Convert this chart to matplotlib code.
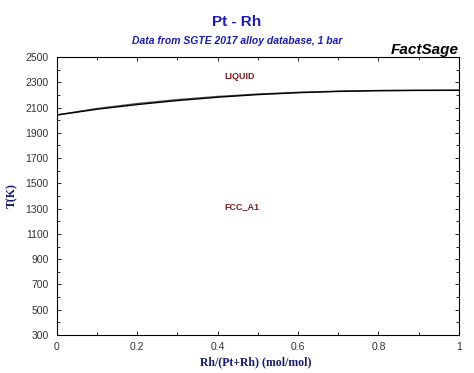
import numpy as np
import matplotlib.pyplot as plt
from matplotlib.ticker import MultipleLocator, FixedLocator

# phase boundaries
x_pts = [0.0, 0.1, 0.2, 0.3, 0.4, 0.5, 0.6, 0.7, 0.8, 0.9, 1.0]
t_liq = [2042, 2093, 2132, 2163, 2188, 2207, 2221, 2230, 2235, 2237, 2237]
t_sol = [2041, 2087, 2124, 2156, 2182, 2203, 2218, 2228, 2234, 2236, 2237]

phase_labels = ["LIQUID", "FCC_A1"]
phase_pos = [(0.455, 2350), (0.46, 1320)]

y_major = list(range(300, 2501, 200))
x_major = [0, 0.2, 0.4, 0.6, 0.8, 1]
x_labels = ['0', '0.2', '0.4', '0.6', '0.8', '1']

fig = plt.figure(figsize=(4.74, 3.73), dpi=100)
ax = fig.add_axes([0.120, 0.102, 0.848, 0.745])

ax.plot(x_pts, t_liq, color='#555555', lw=1.0)
ax.plot(x_pts, t_sol, color='black', lw=1.0)

ax.set_xlim(0, 1)
ax.set_ylim(300, 2500)
ax.set_xticks(x_major)
ax.set_xticklabels(x_labels)
ax.xaxis.set_minor_locator(MultipleLocator(0.1))
ax.yaxis.set_major_locator(FixedLocator(y_major))
ax.yaxis.set_minor_locator(MultipleLocator(100))
ax.tick_params(which='both', direction='in', top=True, right=True,
               labelsize=7.5, labelcolor='#333333', width=0.6)
ax.tick_params(which='major', length=3)
ax.tick_params(which='minor', length=2)
ax.tick_params(axis='x', pad=5)
ax.tick_params(axis='y', pad=6)
for lab in ax.get_xticklabels() + ax.get_yticklabels():
    lab.set_family('Liberation Sans')
for s in ax.spines.values():
    s.set_linewidth(0.8)

for lab, (px, py) in zip(phase_labels, phase_pos):
    ax.text(px, py, lab, color='#7a1f1f', fontsize=6.5, fontweight='bold',
            family='Liberation Sans', ha='center', va='center')

fig.text(0.54, 0.03, 'Rh/(Pt+Rh) (mol/mol)', family='Liberation Serif',
         fontweight='bold', fontsize=8.5, color='#1a1a6e', ha='center',
         va='center')
fig.text(0.025, 0.475, 'T(K)', family='Liberation Serif', fontweight='bold',
         fontsize=8.5, color='#1a1a6e', rotation=90, ha='center', va='center')

fig.text(0.5, 0.93, 'Pt - Rh', color='#1c1cb0', fontsize=11,
         fontweight='bold', family='Liberation Sans', ha='center')
fig.text(0.5, 0.882, 'Data from SGTE 2017 alloy database, 1 bar',
         color='#1c1cb0', fontsize=7.5, fontweight='bold', style='italic',
         family='Liberation Sans', ha='center')
fig.text(0.968, 0.855, 'FactSage', color='black', fontsize=11,
         fontweight='bold', style='italic', family='Liberation Sans',
         ha='right')

fig.savefig('out.png', dpi=100)
